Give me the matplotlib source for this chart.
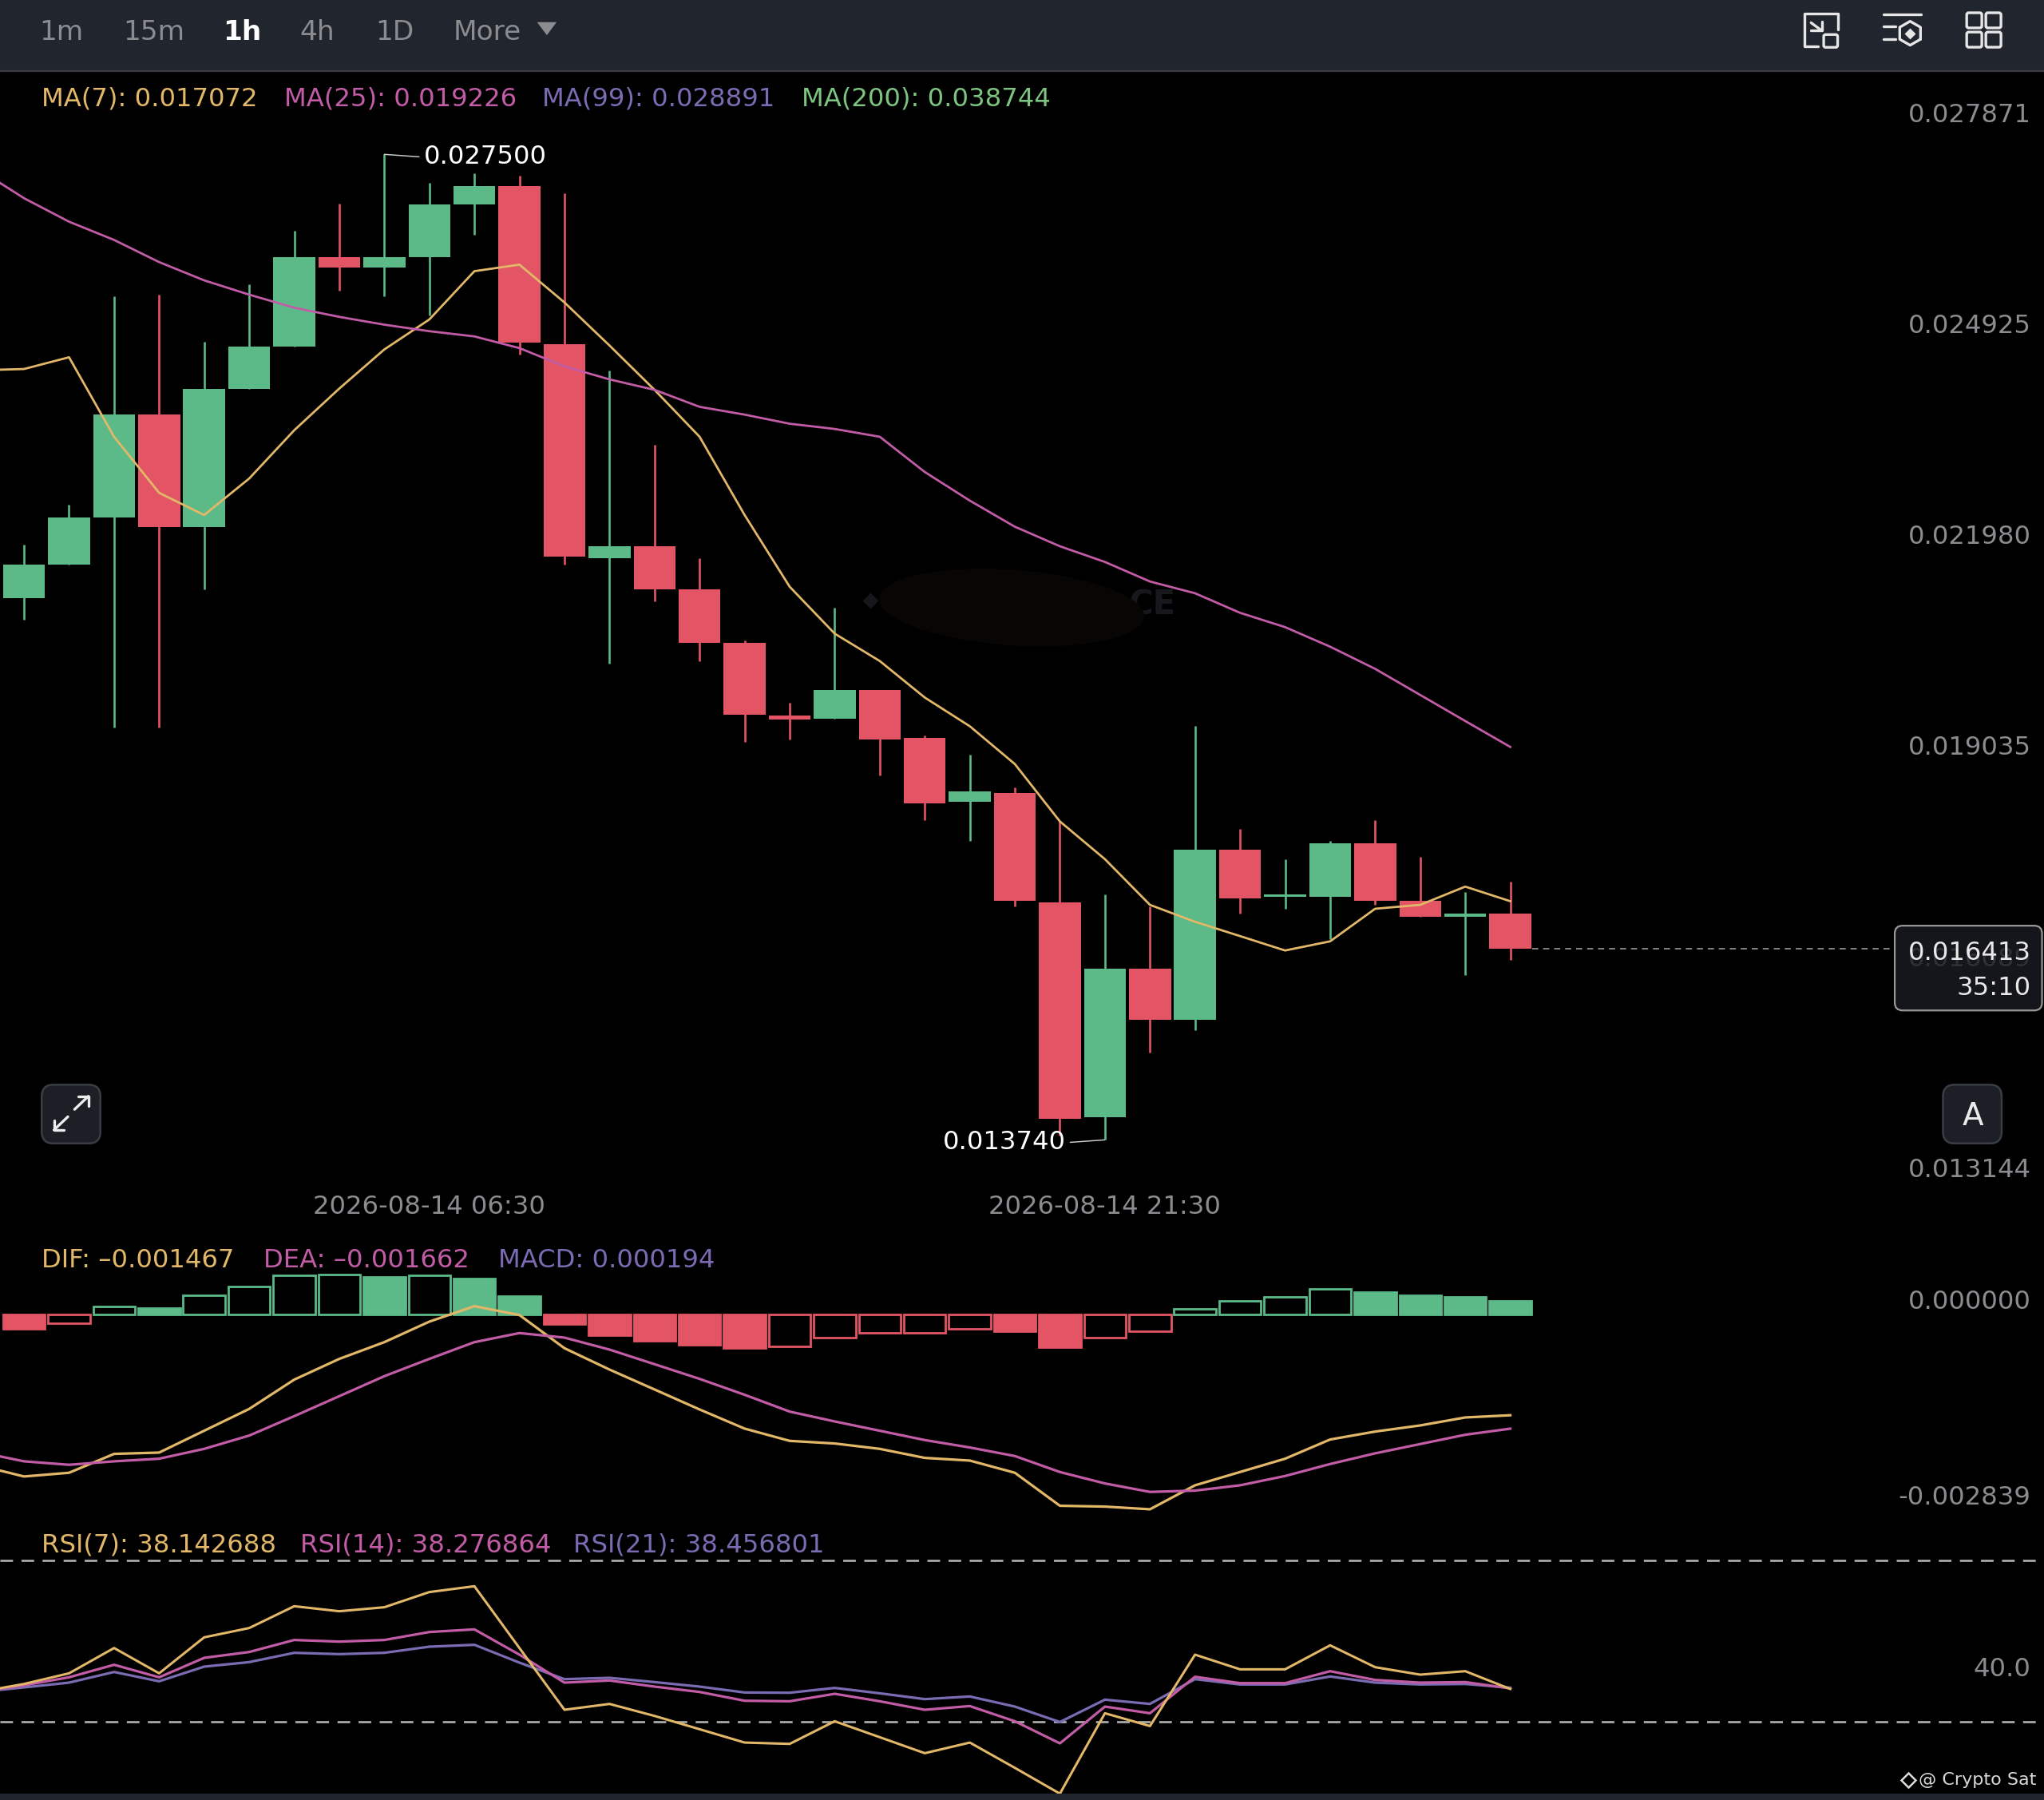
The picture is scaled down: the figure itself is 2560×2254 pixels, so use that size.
import matplotlib

matplotlib.use("Agg")
matplotlib.rcParams["font.family"] = ["DejaVu Sans"]
import matplotlib.pyplot as plt
import matplotlib.ticker as mticker
from matplotlib.patches import Ellipse, FancyBboxPatch, Polygon, Rectangle
import numpy as np

W, H = 1568.0, 1380.6  # layout units, 1 unit = 1.6327 image pixels

BG = "#000000"
BAR = "#21262e"
UP = "#5cba89"
DOWN = "#e35565"
C_YEL = "#e2b868"
C_PNK = "#c25ca6"
C_PUR = "#7a6bb2"
C_GRN = "#7cc47f"
TICK = "#8a8c8f"
FS = 11.6

TABS = ["1m", "15m", "1h", "4h", "1D", "More"]

OPEN = [0.021299, 0.021773, 0.022428, 0.023866, 0.022301, 0.024230, 0.024813, 0.026069, 0.025923,
        0.026069, 0.026797, 0.027052, 0.024849, 0.021864, 0.022028, 0.021427, 0.020680, 0.019661,
        0.019625, 0.020025, 0.019352, 0.018460, 0.018587, 0.017058, 0.014054, 0.016129, 0.015419,
        0.017786, 0.017131, 0.017131, 0.017877, 0.017076, 0.016858, 0.016894]
CLOSE = [0.021773, 0.022428, 0.023866, 0.022301, 0.024230, 0.024813, 0.026069, 0.025923, 0.026069,
         0.026797, 0.027052, 0.024867, 0.021882, 0.022028, 0.021427, 0.020680, 0.019679, 0.019606,
         0.020025, 0.019333, 0.018441, 0.018605, 0.017076, 0.014036, 0.016129, 0.015419, 0.017786,
         0.017112, 0.017167, 0.017877, 0.017076, 0.016858, 0.016894, 0.016413]
HIGH = [0.022046, 0.022610, 0.025523, 0.025541, 0.024886, 0.025687, 0.026433, 0.026815, 0.027500,
        0.027106, 0.027234, 0.027197, 0.026961, 0.024485, 0.023447, 0.021864, 0.020717, 0.019843,
        0.021172, 0.020025, 0.019388, 0.019115, 0.018660, 0.018186, 0.017167, 0.017003, 0.019515,
        0.018077, 0.017659, 0.017913, 0.018205, 0.017695, 0.017203, 0.017349]
LOW = [0.021008, 0.021773, 0.019497, 0.019497, 0.021427, 0.024230, 0.024813, 0.025596, 0.025523,
       0.025250, 0.026378, 0.024704, 0.021773, 0.020389, 0.021263, 0.020426, 0.019297, 0.019333,
       0.019625, 0.018824, 0.018205, 0.017913, 0.017003, 0.013799, 0.013740, 0.014964, 0.015274,
       0.016894, 0.016967, 0.016548, 0.017021, 0.016858, 0.016038, 0.016257]

# moving averages start one candle left of the visible window
MA7 = [0.024485, 0.024503, 0.024667, 0.023557, 0.022774, 0.022464, 0.022974, 0.023648, 0.024230,
       0.024776, 0.025195, 0.025869, 0.025960, 0.025432, 0.024831, 0.024212, 0.023557, 0.022464,
       0.021463, 0.020808, 0.020426, 0.019916, 0.019515, 0.018987, 0.018186, 0.017659, 0.017021,
       0.016785, 0.016585, 0.016384, 0.016512, 0.016967, 0.017021, 0.017276, 0.017072]
MA25 = [0.027288, 0.026888, 0.026560, 0.026305, 0.025996, 0.025741, 0.025541, 0.025359, 0.025231,
        0.025122, 0.025031, 0.024958, 0.024795, 0.024540, 0.024358, 0.024212, 0.023975, 0.023866,
        0.023739, 0.023666, 0.023557, 0.023065, 0.022665, 0.022301, 0.022028, 0.021809, 0.021536,
        0.021372, 0.021099, 0.020899, 0.020626, 0.020316, 0.019952, 0.019588, 0.019226]

HIST = [-0.000216, -0.000134, 0.000115, 0.000085, 0.000278, 0.000405, 0.000560, 0.000579, 0.000541,
        0.000560, 0.000522, 0.000267, -0.000138, -0.000301, -0.000386, -0.000441, -0.000490, -0.000464,
        -0.000341, -0.000274, -0.000274, -0.000208, -0.000246, -0.000483, -0.000341, -0.000252, 0.000078,
        0.000189, 0.000256, 0.000363, 0.000316, 0.000278, 0.000256, 0.000194]
HIST_HOLLOW = [0, 1, 1, 0, 1, 1, 1, 1, 0, 1, 0, 0, 0, 0, 0, 0, 0, 1, 1, 1, 1, 1, 0, 0, 1, 1, 1, 1, 1, 1, 0, 0, 0, 0]
DIF = [-0.002194, -0.002356, -0.002302, -0.002028, -0.002009, -0.001692, -0.001375, -0.000950, -0.000649,
       -0.000406, -0.000108, 0.000116, -0.000012, -0.000494, -0.000804, -0.001093, -0.001383, -0.001661,
       -0.001839, -0.001877, -0.001955, -0.002086, -0.002125, -0.002302, -0.002781, -0.002793, -0.002832,
       -0.002484, -0.002291, -0.002098, -0.001819, -0.001704, -0.001615, -0.001499, -0.001467]
DEA = [-0.002001, -0.002136, -0.002186, -0.002136, -0.002098, -0.001955, -0.001762, -0.001480, -0.001190,
       -0.000900, -0.000649, -0.000406, -0.000274, -0.000340, -0.000514, -0.000726, -0.000939, -0.001170,
       -0.001414, -0.001557, -0.001692, -0.001827, -0.001935, -0.002059, -0.002291, -0.002457, -0.002580,
       -0.002561, -0.002484, -0.002349, -0.002175, -0.002020, -0.001885, -0.001750, -0.001662]

RSI7 = [37.40, 39.39, 42.03, 48.31, 42.03, 50.96, 53.27, 58.69, 57.44, 58.43, 62.20, 63.65, 48.31, 32.98,
        34.43, 31.45, 28.15, 24.84, 24.51, 30.13, 26.17, 22.20, 24.84, 18.56, 12.15, 32.12, 28.94, 46.66,
        43.02, 43.02, 48.98, 43.55, 41.70, 42.56, 38.14]
RSI14 = [37.40, 39.06, 41.04, 44.15, 41.04, 45.87, 47.32, 50.30, 49.90, 50.30, 52.28, 52.94, 46.66, 39.72,
         40.25, 38.73, 37.40, 35.22, 35.09, 36.94, 35.09, 32.98, 33.90, 30.13, 24.64, 33.77, 32.12, 41.17,
         39.59, 39.59, 42.56, 40.38, 39.72, 39.85, 38.28]
RSI21 = [37.40, 38.53, 39.72, 42.36, 40.05, 43.69, 44.81, 47.12, 46.79, 47.12, 48.64, 49.11, 44.68, 40.58,
         40.91, 39.85, 38.73, 37.27, 37.21, 38.40, 37.07, 35.62, 36.28, 33.77, 29.93, 35.49, 34.43, 40.58,
         39.26, 39.26, 41.24, 39.72, 39.26, 39.39, 38.46]

PRICE_TICKS = [0.027871, 0.024925, 0.021980, 0.019035, 0.016089, 0.013144]
MACD_TICKS = [0.000000, -0.002839]
RSI_TICKS = [40.0]
RSI_BANDS = [70, 30]
DATE_POS = [9, 24]
DATE_LABELS = ["2026-08-14 06:30", "2026-08-14 21:30"]
LAST_PRICE = 0.016413

XLIM = (-0.533, 44.85)


def pane(fig, top, bottom, ylim, ticks, fmt):
    ax = fig.add_axes([0, 1 - bottom / H, 1, (bottom - top) / H])
    ax.patch.set_visible(False)
    for s in ax.spines.values():
        s.set_visible(False)
    ax.set_xlim(*XLIM)
    ax.set_ylim(*ylim)
    ax.set_xticks([])
    ax.set_yticks(ticks)
    ax.yaxis.set_major_formatter(mticker.FormatStrFormatter(fmt))
    ax.tick_params(axis="y", left=False, right=False, labelleft=False, labelright=True,
                   pad=-9.4, labelsize=FS, labelcolor=TICK)
    # labels sit inside the plot, just above their price level
    for t in ax.yaxis.get_major_ticks():
        t.label2.set_ha("right")
        t.label2.set_va("bottom")
    return ax


def legend_row(ui, y, items):
    for x, txt, col in items:
        ui.text(x, y, txt, color=col, fontsize=FS, ha="left", va="center")


def main():
    fig = plt.figure(figsize=(12.8, 11.27), dpi=200)
    fig.patch.set_facecolor(BG)

    n = len(OPEN)
    x = np.arange(n)
    xl = np.arange(-1, n)

    # price pane
    ax = pane(fig, 55, 908, (0.013126, 0.028654), PRICE_TICKS, "%.6f")
    cols = [UP if c >= o else DOWN for o, c in zip(OPEN, CLOSE)]
    ax.vlines(x, LOW, HIGH, colors=cols, linewidth=0.95, zorder=2)
    ax.bar(x, np.abs(np.array(CLOSE) - np.array(OPEN)), bottom=np.minimum(OPEN, CLOSE),
           width=0.93, color=cols, linewidth=0, zorder=3)
    ax.plot(xl, MA7, color=C_YEL, linewidth=1.0, zorder=4)
    ax.plot(xl, MA25, color=C_PNK, linewidth=1.0, zorder=4)
    ax.hlines(LAST_PRICE, 33.48, 41.5, colors="#a8a8a8", linewidth=0.55, linestyles=(0, (5, 4)), zorder=1)
    ax.set_xticks(DATE_POS)
    ax.set_xticklabels(DATE_LABELS, fontsize=FS, color=TICK)
    ax.tick_params(axis="x", length=0, pad=4.9)

    hi = int(np.argmax(HIGH))
    lo = int(np.argmin(LOW))
    ax.annotate(f"{HIGH[hi]:.6f}", xy=(hi, HIGH[hi]), xytext=(hi + 0.87, HIGH[hi]), color="white",
                fontsize=FS, ha="left", va="center_baseline",
                arrowprops=dict(arrowstyle="-", color="#c8c8c8", lw=0.55, shrinkA=0, shrinkB=0, relpos=(0, 0.5)))
    ax.annotate(f"{LOW[lo]:.6f}", xy=(lo, LOW[lo]), xytext=(lo - 0.87, LOW[lo]), color="white",
                fontsize=FS, ha="right", va="center_baseline",
                arrowprops=dict(arrowstyle="-", color="#c8c8c8", lw=0.55, shrinkA=0, shrinkB=0, relpos=(1, 0.5)))

    # macd pane
    ax2 = pane(fig, 945, 1175, (-0.003161, 0.001192), MACD_TICKS, "%.6f")
    hist_cols = [UP if v >= 0 else DOWN for v in HIST]
    faces = [BG if h else c for h, c in zip(HIST_HOLLOW, hist_cols)]
    ax2.bar(x, HIST, width=0.93, color=faces, edgecolor=hist_cols, linewidth=1.0, zorder=2)
    ax2.plot(xl, DIF, color=C_YEL, linewidth=1.15, zorder=3)
    ax2.plot(xl, DEA, color=C_PNK, linewidth=1.15, zorder=3)

    # rsi pane
    ax3 = pane(fig, 1190, 1376, (12.07, 72.27), RSI_TICKS, "%.1f")
    for band in RSI_BANDS:
        ax3.axhline(band, color="#b0b0b0", linewidth=0.95, linestyle=(0, (6, 4)), zorder=1)
    ax3.plot(xl, RSI21, color=C_PUR, linewidth=1.15, zorder=3)
    ax3.plot(xl, RSI14, color=C_PNK, linewidth=1.15, zorder=4)
    ax3.plot(xl, RSI7, color=C_YEL, linewidth=1.1, zorder=5)

    # app chrome, in layout units
    ui = fig.add_axes([0, 0, 1, 1], zorder=10)
    ui.patch.set_visible(False)
    ui.set_xlim(0, W)
    ui.set_ylim(H, 0)
    ui.axis("off")

    ui.add_patch(Rectangle((0, 0), W, 54, facecolor=BAR, edgecolor="none"))
    ui.plot([0, W], [54.5, 54.5], color="#3a3d44", linewidth=0.8)
    ui.add_patch(Rectangle((0, 1376), W, 6, facecolor=BAR, edgecolor="none"))

    for xc, tab in zip([47, 118, 186, 243, 303, 374], TABS):
        active = tab == "1h"
        ui.text(xc, 25, tab, color="white" if active else TICK, fontsize=12.4, ha="center", va="center",
                fontweight="bold" if active else "normal")
    ui.add_patch(Polygon([[412, 17], [427, 17], [419.5, 27]], facecolor=TICK, edgecolor="none"))

    # toolbar icons
    icon = dict(color="#e6e6e6", linewidth=1.2, solid_capstyle="round", solid_joinstyle="round")
    ui.plot([1394.4, 1384.2, 1384.2, 1409.7, 1409.7], [35.7, 35.7, 10.2, 10.2, 22.5], **icon)
    ui.add_patch(FancyBboxPatch((1399, 26.5), 10.7, 9.8, boxstyle="round,pad=0,rounding_size=1.5",
                                facecolor="none", edgecolor="#e6e6e6", linewidth=1.2))
    ui.plot([1389.3, 1397.5], [17.4, 23.5], **icon)
    ui.plot([1389.3, 1397.5, 1397.5], [23.5, 23.5, 16.3], **icon)
    ui.plot([1445, 1473.6], [11.2, 11.2], **icon)
    ui.plot([1445, 1454], [20.4, 20.4], **icon)
    ui.plot([1445, 1454], [30.2, 30.2], **icon)
    ang = np.deg2rad(np.arange(30, 391, 60))
    ui.plot(1465.3 + 9.2 * np.cos(ang), 25.5 + 9.2 * np.sin(ang), **icon)
    ui.plot([1465.3], [25.5], marker="D", markersize=2.6, color="#e6e6e6")
    for x0, y0 in [(1508.7, 9.8), (1523.4, 9.8), (1508.7, 24.6), (1523.4, 24.6)]:
        ui.add_patch(FancyBboxPatch((x0, y0), 11.6, 11.6, boxstyle="round,pad=0,rounding_size=1.5",
                                    facecolor="none", edgecolor="#e6e6e6", linewidth=1.2))

    legend_row(ui, 76, [(32, "MA(7): 0.017072", C_YEL), (218, "MA(25): 0.019226", C_PNK),
                        (416, "MA(99): 0.028891", C_PUR), (615, "MA(200): 0.038744", C_GRN)])
    legend_row(ui, 967, [(32, "DIF: –0.001467", C_YEL), (202, "DEA: –0.001662", C_PNK),
                         (382, "MACD: 0.000194", C_PUR)])
    legend_row(ui, 1185, [(32, "RSI(7): 38.142688", C_YEL), (230, "RSI(14): 38.276864", C_PNK),
                          (440, "RSI(21): 38.456801", C_PUR)])

    # blurred-out logo in the middle of the chart
    ui.plot([667.6], [460.5], marker="D", markersize=4, color="#15171b", zorder=0)
    ui.text(884, 464, "CE", color="#16181c", fontsize=15, fontweight="bold", ha="center", va="center", zorder=0)
    ui.add_patch(Ellipse((776, 466), 204, 58, angle=4, facecolor="#080605", edgecolor="none", zorder=0.5))

    # last price box
    ui.add_patch(FancyBboxPatch((1453.5, 710), 113, 65, boxstyle="round,pad=0,rounding_size=6",
                                facecolor="#1a1c22", edgecolor="#b8b8b8", linewidth=0.8, alpha=0.82))
    ui.text(1558, 731, f"{LAST_PRICE:.6f}", color="#e8e8e8", fontsize=FS, ha="right", va="center")
    ui.text(1558, 758, "35:10", color="#e8e8e8", fontsize=FS, ha="right", va="center")

    # round buttons
    for x0 in (32, 1490.5):
        ui.add_patch(FancyBboxPatch((x0, 832), 45, 45, boxstyle="round,pad=0,rounding_size=9",
                                    facecolor="#1c1f25", edgecolor="#3a3d45", linewidth=0.9))
    ui.text(1513.5, 856, "A", color="#eaeaea", fontsize=14, ha="center", va="center")
    arrow = dict(color="#ececec", linewidth=1.2, solid_capstyle="round", solid_joinstyle="round")
    ui.plot([57.2, 67.8], [850.9, 840.8], **arrow)
    ui.plot([60.2, 67.8, 67.8], [840.8, 840.8, 848.3], **arrow)
    ui.plot([52.1, 41.4], [856.5, 866.7], **arrow)
    ui.plot([49, 41.4, 41.4], [866.7, 866.7, 859.1], **arrow)

    # watermark
    ui.plot([1464], [1365], marker="D", markersize=4.5, markerfacecolor="none", markeredgecolor="#dddddd",
            markeredgewidth=0.9)
    ui.text(1562, 1365.5, "@ Crypto Sat", color="#d8d8d8", fontsize=8, ha="right", va="center")

    fig.savefig("out.png", dpi=200, facecolor=BG)
    plt.close(fig)


if __name__ == "__main__":
    main()
